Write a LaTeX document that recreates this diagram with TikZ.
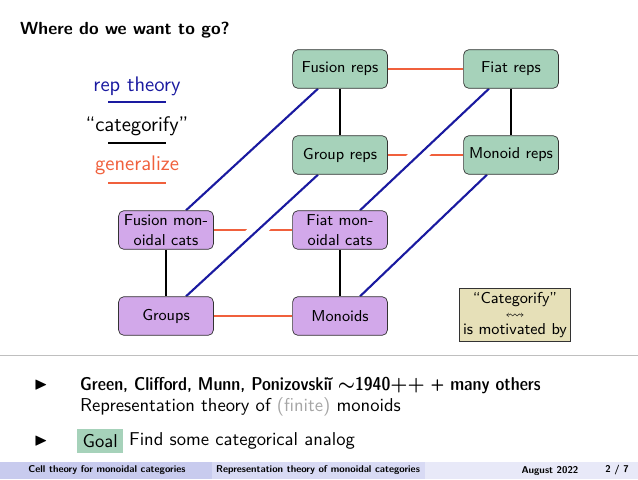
\documentclass[tikz,border=0pt]{standalone}
\usepackage{amssymb}
\usetikzlibrary{backgrounds}
\renewcommand{\familydefault}{\sfdefault}
\definecolor{grn}{HTML}{A6D2BA}
\definecolor{pur}{HTML}{D2A8EA}
\definecolor{rd}{HTML}{F0603C}
\definecolor{bl}{HTML}{1A1AA0}
\definecolor{tan}{HTML}{E6E0B8}
\tikzset{
 box/.style={draw=black!80,rounded corners=3pt,minimum width=54pt,minimum height=22pt,align=center,font=\small,inner sep=1pt},
 gbox/.style={box,fill=grn}, pbox/.style={box,fill=pur},
 redl/.style={draw=rd,line width=1.2pt},
 blul/.style={draw=bl,line width=1.2pt,preaction={draw=white,line width=9pt}},
 blkl/.style={draw=black,line width=1.2pt},
 btxt/.style={anchor=west,font=\fontsize{10.6}{12}\selectfont},
}
\begin{document}
\begin{tikzpicture}[x=0.5696pt,y=-0.5696pt]
\useasboundingbox (0,0) rectangle (638,479);
\node[anchor=west,font=\bfseries] (title) at (14,30) {Where do we want to go?};
\node[gbox] (fr) at (340,69) {Fusion reps};
\node[gbox] (fir) at (511,69) {Fiat reps};
\node[gbox] (gr) at (340,155) {Group reps};
\node[gbox] (mr) at (511,155) {Monoid reps};
\node[pbox] (fc) at (166,230) {Fusion mon-\\oidal cats};
\node[pbox] (fic) at (340,230) {Fiat mon-\\oidal cats};
\node[pbox] (g) at (166,316) {Groups};
\node[pbox] (m) at (340,316) {Monoids};
\begin{scope}[on background layer]
\draw[redl] (fr) -- (fir);
\draw[redl] (gr) -- (mr);
\draw[redl] (fc) -- (fic);
\draw[redl] (g) -- (m);
\draw[blul] ([xshift=20*0.5696pt]fc.north) -- ([xshift=-22*0.5696pt]fr.south);
\draw[blul] ([xshift=20*0.5696pt]g.north) -- ([xshift=-22*0.5696pt]gr.south);
\draw[blul] ([xshift=20*0.5696pt]fic.north) -- ([xshift=-22*0.5696pt]fir.south);
\draw[blul] ([xshift=20*0.5696pt]m.north) -- ([xshift=-24*0.5696pt]mr.south);
\draw[blkl] (fr) -- (gr);
\draw[blkl] (fir) -- (mr);
\draw[blkl] (fc) -- (g);
\draw[blkl] (fic) -- (m);
\end{scope}
% legend
\node[text=bl,font=\large] (l1) at (137,86) {rep theory};
\coordinate (a1) at (108,102); \coordinate (b1) at (166,102);
\draw[bl,line width=1.2pt] (a1) -- (b1);
\node[font=\large] (l2) at (137,126) {``categorify''};
\coordinate (a2) at (108,143); \coordinate (b2) at (166,143);
\draw[line width=1.2pt] (a2) -- (b2);
\node[text=rd,font=\large] (l3) at (137,165) {generalize};
\coordinate (a3) at (108,183); \coordinate (b3) at (166,183);
\draw[rd,line width=1.2pt] (a3) -- (b3);
% categorify box
\node[draw=black!80,fill=tan,align=center,font=\small,inner sep=2pt] (cat) at (515,315) {``Categorify''\\[-2pt]{\scriptsize$\leftrightsquigarrow$}\\[-2pt]is motivated by};
% separator
\draw[gray!50,line width=0.4pt] (0,355) -- (638,355);
% bullets
\node[anchor=west] (t1) at (28,385) {$\blacktriangleright$};
\node[btxt] (b1t) at (74,385) {\fontseries{sbc}\selectfont Green, Clifford, Munn, Ponizovski\u{\i} {\boldmath$\sim$}1940{\boldmath$++$} + many others};
\node[btxt] (b1s) at (74,407) {Representation theory of {\color{gray!70}(finite)} monoids};
\node[anchor=west] (t2) at (28,441) {$\blacktriangleright$};
\node[btxt,fill=grn,inner sep=3pt] (goal) at (77,441) {Goal};
\node[btxt] (b2t) at (123,441) {Find some categorical analog};
% footer
\fill[fill={rgb,255:red,200;green,203;blue,238}] (0,462) rectangle (212,479);
\fill[fill={rgb,255:red,216;green,218;blue,244}] (212,462) rectangle (425,479);
\fill[fill={rgb,255:red,232;green,233;blue,248}] (425,462) rectangle (638,479);
\tikzset{ftxt/.style={font=\fontsize{5.6}{6}\selectfont\bfseries}}
\node[ftxt] (f1) at (107,470.5) {Cell theory for monoidal categories};
\node[ftxt] (f2) at (318,470.5) {Representation theory of monoidal categories};
\node[ftxt] (f3) at (550,470.5) {August 2022};
\node[ftxt] (f4) at (617,470.5) {2 / 7};
\end{tikzpicture}
\end{document}
